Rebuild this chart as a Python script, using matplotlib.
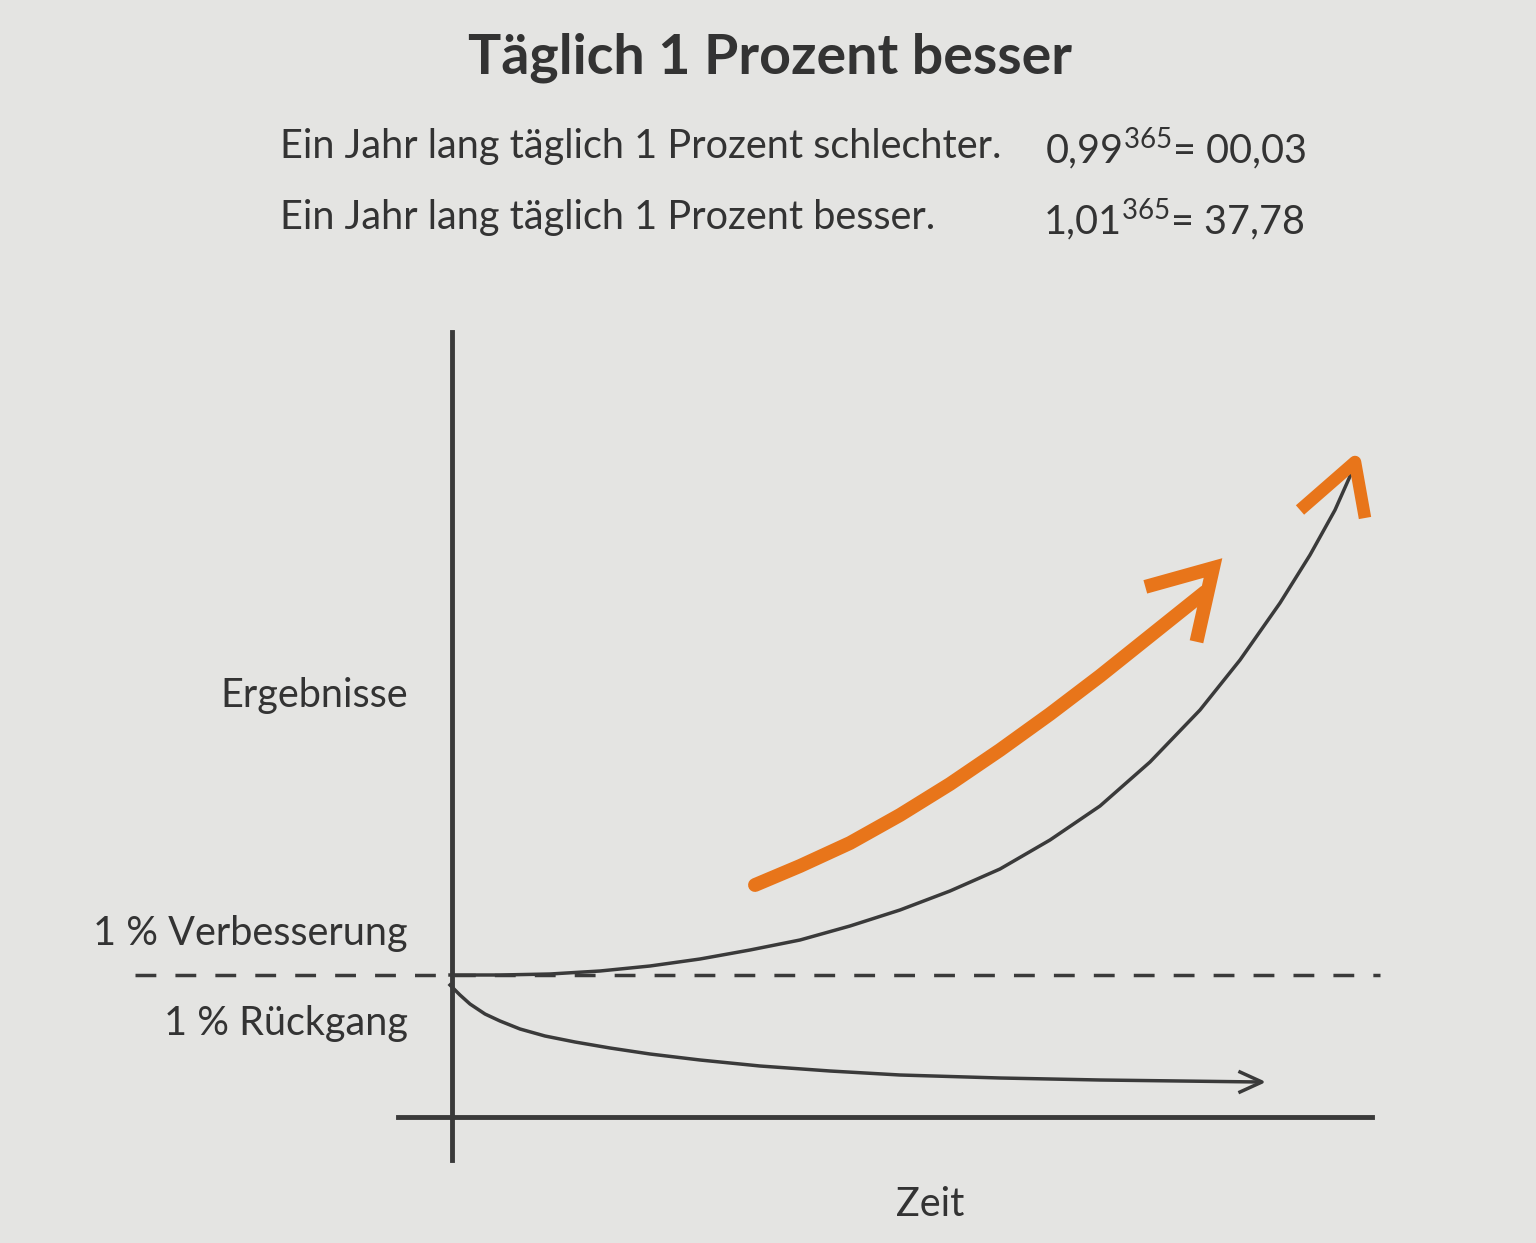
import numpy as np
import matplotlib.pyplot as plt

plt.rcParams['font.family'] = ['Lato', 'DejaVu Sans']
plt.rcParams['mathtext.fontset'] = 'custom'
plt.rcParams['mathtext.rm'] = 'Lato'

# points (picture units, y grows downward)
better_x = [450, 500, 550, 600, 650, 700, 750, 800, 850, 900, 950, 1000, 1050,
            1100, 1150, 1200, 1240, 1280, 1310, 1335, 1355]
better_y = [975, 975, 974, 971, 966, 959, 950, 940, 926, 910, 891, 869, 840,
            806, 762, 710, 660, 603, 555, 510, 465]
worse_x = [450, 460, 470, 485, 500, 520, 545, 575, 610, 650, 700, 760, 830,
           900, 1000, 1100, 1180, 1260]
worse_y = [985, 995, 1004, 1014, 1021, 1029, 1036, 1042, 1048, 1054, 1060, 1066, 1071,
           1075, 1078, 1080, 1081, 1082]
orange_x = [755, 800, 850, 900, 950, 1000, 1050, 1100, 1150, 1180, 1205]
orange_y = [885, 866, 843, 815, 784, 750, 714, 676, 636, 612, 592]

ink = '#3a3a3a'
orange = '#e8751a'
txt = '#333333'

fig = plt.figure(figsize=(15.36, 12.43), dpi=100)
fig.patch.set_facecolor('#e4e4e2')
ax = fig.add_axes([0, 0, 1, 1])
ax.set_xlim(0, 1536)
ax.set_ylim(1243, 0)
ax.axis('off')

# axes of the sketch
ax.plot([452, 452], [332, 1160], color=ink, lw=3.5)
ax.plot([398, 1372], [1117, 1117], color=ink, lw=3.5)
ax.plot([135, 1380], [975, 975], color=ink, lw=2.5, dashes=(6, 5.5))

# curves
ax.plot(better_x, better_y, color=ink, lw=2.5)
ax.plot([1300, 1355, 1365], [510, 462, 518], color=orange, lw=9, solid_capstyle='butt')
ax.plot(worse_x, worse_y, color=ink, lw=2.5)
ax.plot([1240, 1262, 1240], [1072, 1082, 1092], color=ink, lw=2.5)
ax.plot(orange_x, orange_y, color=orange, lw=10, solid_capstyle='round')
ax.plot([1152, 1213, 1198], [585, 568, 635], color=orange, lw=10, solid_joinstyle='miter')

# texts
ax.text(770, 58, 'Täglich 1 Prozent besser', ha='center', va='center',
        fontsize=40, fontweight='bold', color=txt)
ax.text(280, 146, 'Ein Jahr lang täglich 1 Prozent schlechter.', va='center', fontsize=28.5, color=txt)
ax.text(1045, 149, r'0,99$^{365}$= 00,03', va='center', fontsize=28.5, color=txt)
ax.text(280, 217, 'Ein Jahr lang täglich 1 Prozent besser.', va='center', fontsize=28.5, color=txt)
ax.text(1043, 220, r'1,01$^{365}$= 37,78', va='center', fontsize=28.5, color=txt)
ax.text(408, 695, 'Ergebnisse', ha='right', va='center', fontsize=28.5, color=txt)
ax.text(408, 933, '1 % Verbesserung', ha='right', va='center', fontsize=28.5, color=txt)
ax.text(408, 1023, '1 % Rückgang', ha='right', va='center', fontsize=28.5, color=txt)
ax.text(930, 1205, 'Zeit', ha='center', va='center', fontsize=28.5, color=txt)

fig.savefig('out.png', dpi=100, facecolor=fig.get_facecolor())
